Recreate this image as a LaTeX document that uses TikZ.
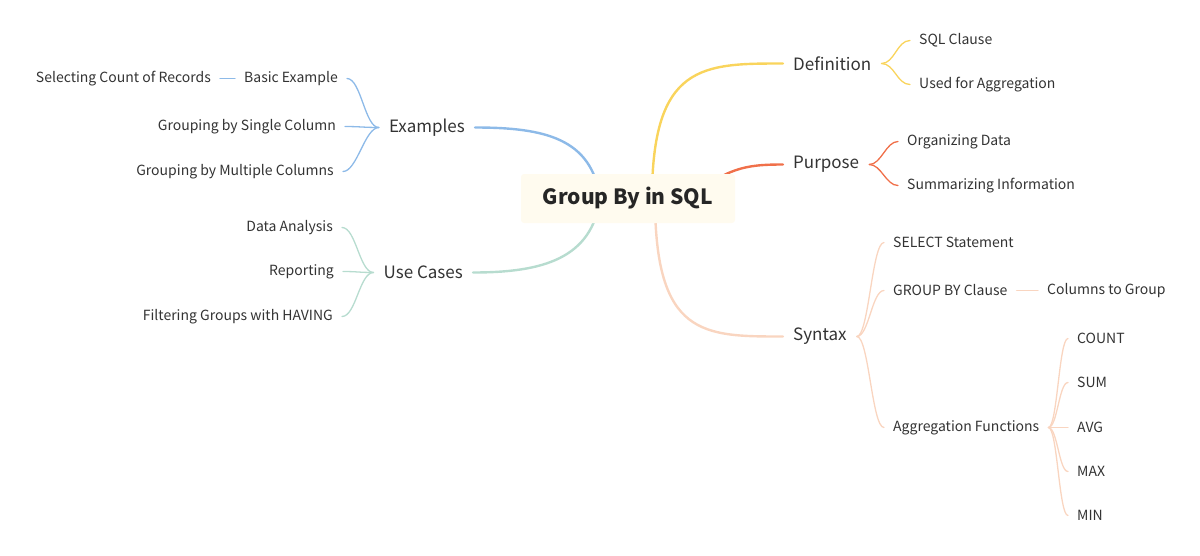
\documentclass[tikz,border=0pt]{standalone}
\usepackage{tikz}
\usepackage{xcolor}
\usepackage{fontspec}
\setmainfont{Noto Sans CJK SC}
\usetikzlibrary{backgrounds}
\definecolor{cdef}{HTML}{F9D45C}
\definecolor{cpur}{HTML}{F0704A}
\definecolor{csyn}{HTML}{F9D5C0}
\definecolor{cex}{HTML}{8DBAE8}
\definecolor{cuse}{HTML}{B7DCCF}
\definecolor{croot}{HTML}{FFFBEF}
\definecolor{ctext}{HTML}{333333}

\begin{document}
\begin{tikzpicture}[x=1pt,y=-1pt,every node/.append style={yshift=-1.5pt}]
		\tikzstyle{root}=[fill=croot,rounded corners=3pt,minimum width=214pt,minimum height=49pt,font=\fontsize{21}{25}\selectfont\bfseries,text=black!85]
		\tikzstyle{topic}=[inner xsep=10pt,font=\fontsize{17}{20}\selectfont,text=ctext]
		\tikzstyle{leaf}=[inner xsep=9pt,font=\fontsize{14}{17}\selectfont,text=ctext]
		\tikzstyle{main}=[line width=2.4pt,line cap=round]
		\tikzstyle{twig}=[line width=1.3pt,line cap=round]
		\useasboundingbox (0,0) rectangle (1200,555);
		
		\node [root] (root) at (628,197) {Group By in SQL};
		
		% topics
		\node [topic,anchor=west] (def) at (783,62) {Definition};
		\node [topic,anchor=west] (pur) at (783,163) {Purpose};
		\node [topic,anchor=west] (syn) at (783,335) {Syntax};
		\node [topic,anchor=east] (ex) at (475,126) {Examples};
		\node [topic,anchor=east] (use) at (473,271) {Use Cases};
		
		% leaves right
		\node [leaf,anchor=west] (sqlc) at (910,39) {SQL Clause};
		\node [leaf,anchor=west] (aggr) at (910,83) {Used for Aggregation};
		\node [leaf,anchor=west] (org) at (898,140) {Organizing Data};
		\node [leaf,anchor=west] (summ) at (898,184) {Summarizing Information};
		\node [leaf,anchor=west] (sel) at (884,241) {SELECT Statement};
		\node [leaf,anchor=west] (grp) at (884,289) {GROUP BY Clause};
		\node [leaf,anchor=west] (cols) at (1038,289) {Columns to Group};
		\node [leaf,anchor=west] (fun) at (884,426) {Aggregation Functions};
		\foreach \name/\y in {COUNT/337,SUM/381,AVG/426,MAX/470,MIN/514}
			\node [leaf,anchor=west] (\name) at (1068,\y) {\name};
		
		% leaves left
		\node [leaf,anchor=east] (basic) at (347,77) {Basic Example};
		\node [leaf,anchor=east] (cnt) at (220,77) {Selecting Count of Records};
		\node [leaf,anchor=east] (single) at (345,125) {Grouping by Single Column};
		\node [leaf,anchor=east] (multi) at (343,170) {Grouping by Multiple Columns};
		\node [leaf,anchor=east] (ana) at (342,226) {Data Analysis};
		\node [leaf,anchor=east] (rep) at (343,270) {Reporting};
		\node [leaf,anchor=east] (filt) at (342,315) {Filtering Groups with HAVING};
		
		\begin{scope}[on background layer]
			\draw [main,cdef] ([xshift=24pt]root.center) .. controls +(0,-135) and +(-80,0) .. (def.west);
			\draw [main,cpur] ([xshift=60pt]root.center) .. controls +(40,-30) and +(-40,0) .. (pur.west);
			\draw [main,csyn] ([xshift=27pt]root.center) .. controls +(0,138) and +(-80,0) .. (syn.west);
			\draw [main,cex] ([xshift=-28pt]root.center) .. controls +(-8,-60) and +(70,0) .. (ex.east);
			\draw [main,cuse] ([xshift=-28pt]root.center) .. controls +(-8,60) and +(70,0) .. (use.east);
		\end{scope}
		
		\foreach \kid in {sqlc,aggr}
			\draw [twig,cdef] (def.east) .. controls +(13,0) and +(-13,0) .. (\kid.west);
		\foreach \kid in {org,summ}
			\draw [twig,cpur] (pur.east) .. controls +(12,0) and +(-12,0) .. (\kid.west);
		\foreach \kid in {sel,grp,fun}
			\draw [twig,csyn] (syn.east) .. controls +(12,0) and +(-12,0) .. (\kid.west);
		\foreach \kid in {COUNT,SUM,AVG,MAX,MIN}
			\draw [twig,csyn] (fun.east) .. controls +(9,0) and +(-9,0) .. (\kid.west);
		\draw [twig,csyn] (grp.east) -- (cols.west);
		\foreach \kid in {basic,single,multi}
			\draw [twig,cex] (ex.west) .. controls +(-14,0) and +(14,0) .. (\kid.east);
		\draw [twig,cex] (basic.west) -- (cnt.east);
		\foreach \kid in {ana,rep,filt}
			\draw [twig,cuse] (use.west) .. controls +(-14,0) and +(14,0) .. (\kid.east);
\end{tikzpicture}
\end{document}
